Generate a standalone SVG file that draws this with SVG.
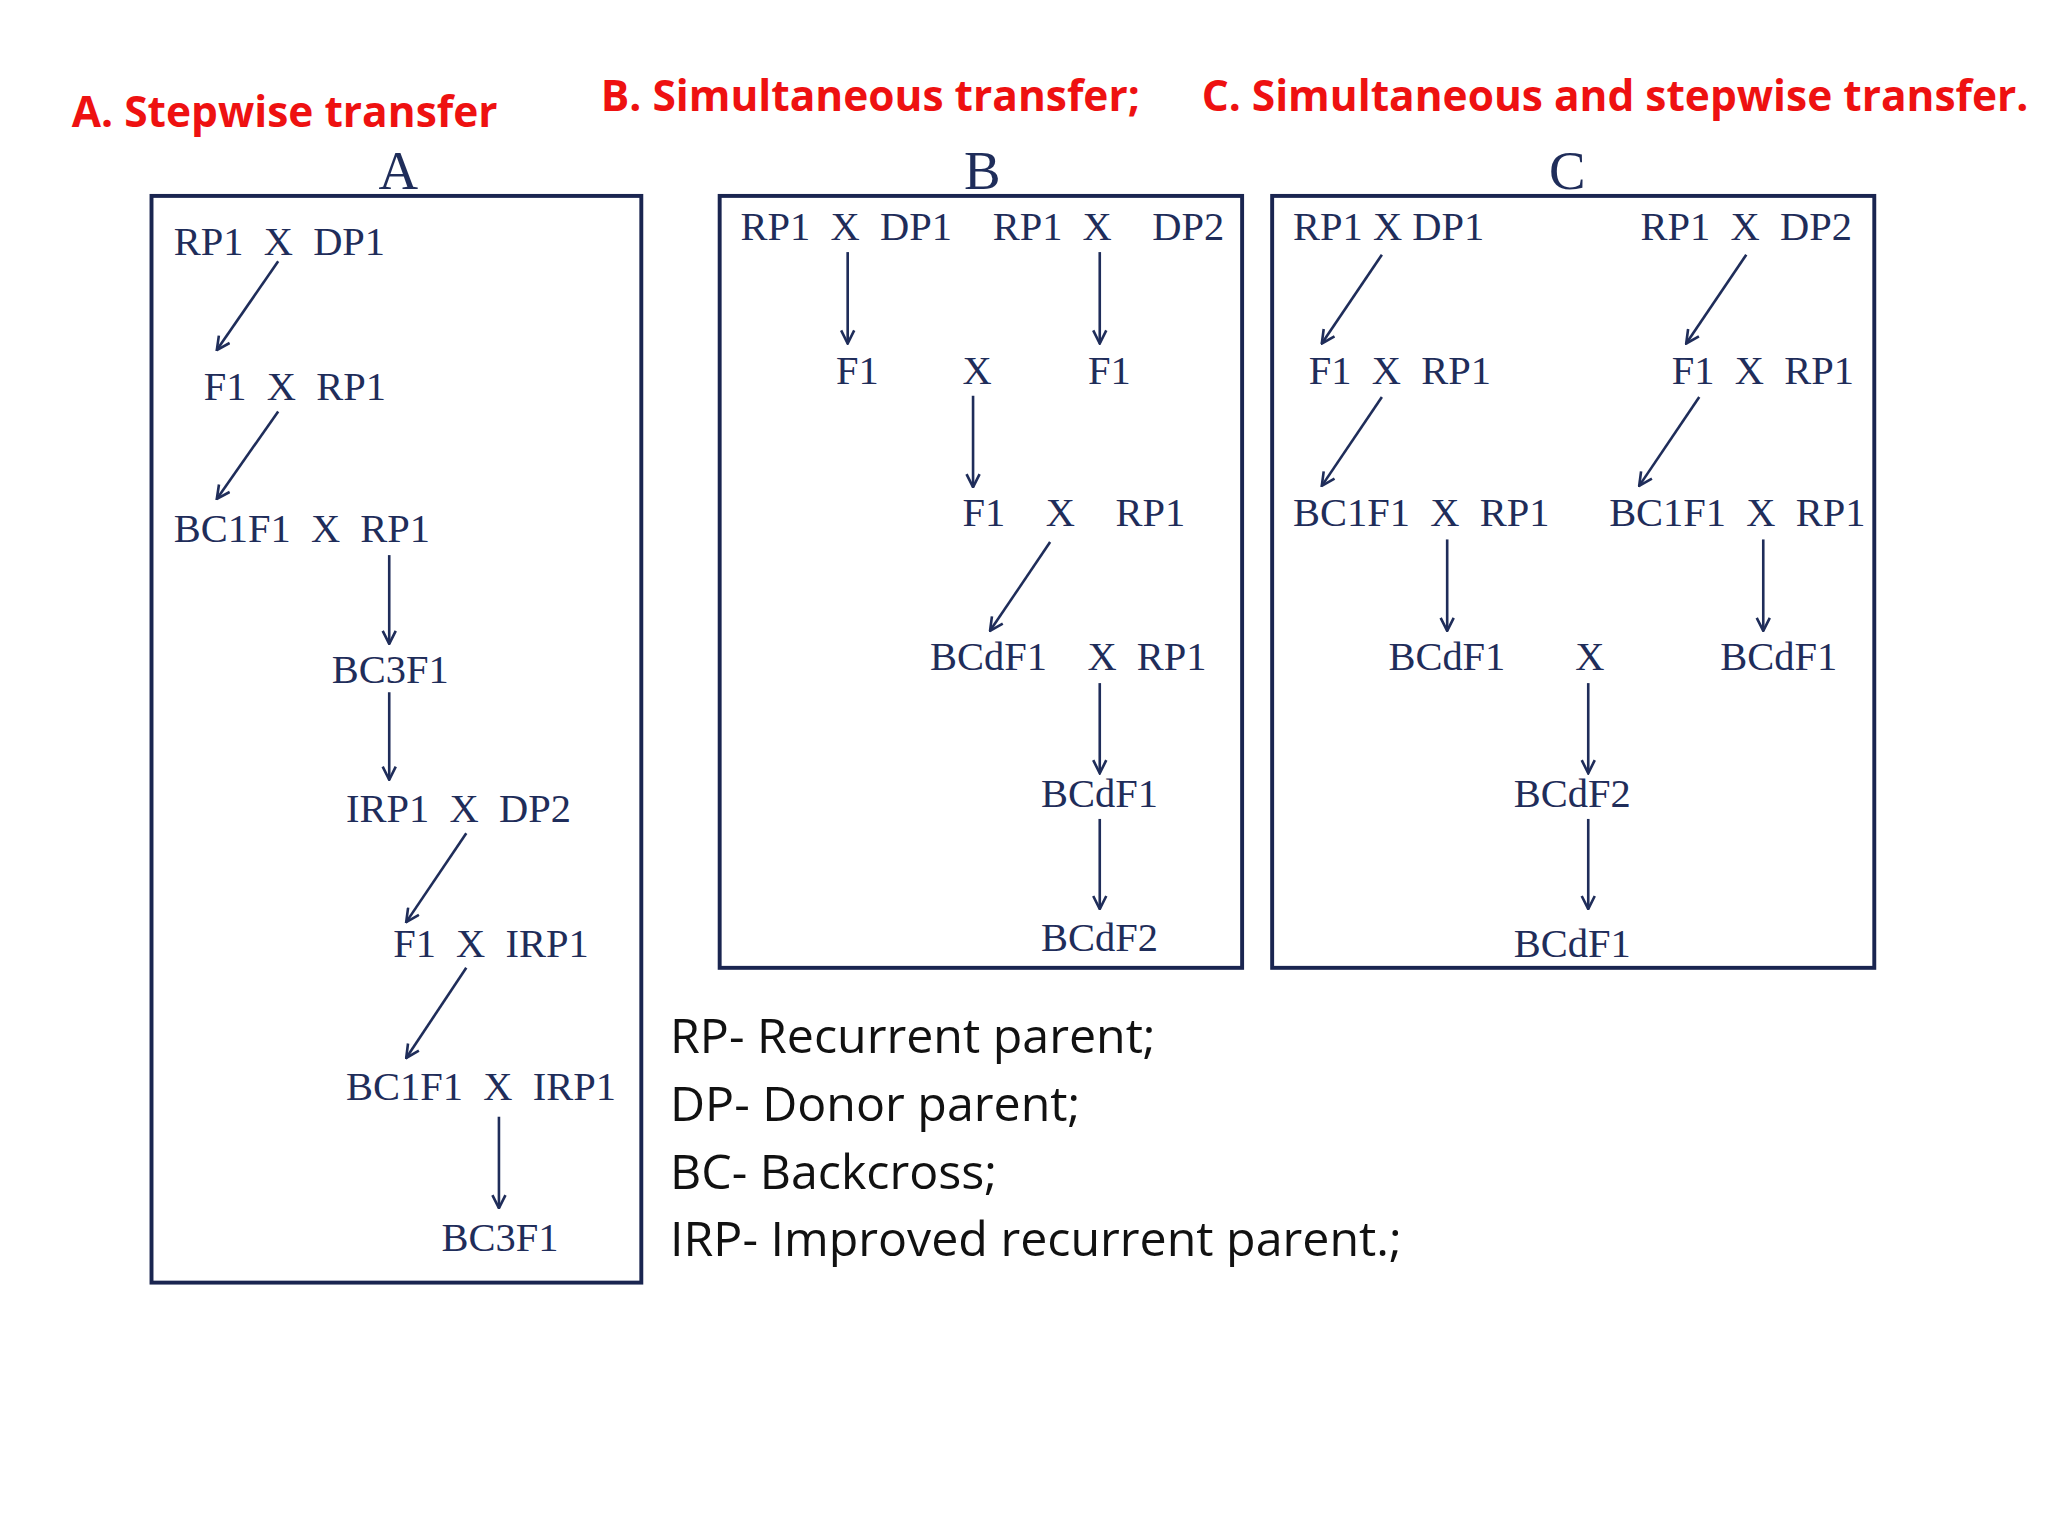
<svg xmlns="http://www.w3.org/2000/svg" width="2048" height="1536" viewBox="0 0 2048 1536">
<defs>
<style>
.t{font-family:"Liberation Serif",serif;font-size:31px;fill:#1f2d5a;white-space:pre}
.h{font-family:"Open Sans","Liberation Sans",sans-serif;font-weight:bold;font-size:32.5px;fill:#ee1111}
.l{font-family:"Liberation Serif",serif;font-size:42px;fill:#1f2d5a}
.g{font-family:"Open Sans","Liberation Sans",sans-serif;font-size:37px;fill:#111}
.b{fill:none;stroke:#1a2550;stroke-width:3}
.a{stroke:#1f2d5a;stroke-width:2;fill:none;marker-end:url(#m)}
</style>
<marker id="m" viewBox="0 0 12 12" refX="11" refY="6" markerWidth="12" markerHeight="12" markerUnits="userSpaceOnUse" orient="auto"><path d="M1,1 L11,6 L1,11" fill="none" stroke="#1f2d5a" stroke-width="2"/></marker>
</defs>
<rect width="2048" height="1536" fill="#fff"/>
<g transform="scale(1.30612)">
<g id="titles">
<text class="h" x="55" y="97">A. Stepwise transfer</text>
<text class="h" x="460" y="85">B. Simultaneous transfer;</text>
<text class="h" x="920" y="85">C. Simultaneous and stepwise transfer.</text>
<text class="l" x="305" y="145" text-anchor="middle">A</text>
<text class="l" x="752" y="145" text-anchor="middle">B</text>
<text class="l" x="1200" y="145" text-anchor="middle">C</text>
</g>
<g id="boxes">
<rect class="b" x="116" y="150" width="375" height="832"/>
<rect class="b" x="551" y="150" width="400" height="591"/>
<rect class="b" x="974" y="150" width="461" height="591"/>
</g>
<g id="nodesA">
<text class="t" x="133" y="195">RP1  X  DP1</text>
<text class="t" x="156" y="306">F1  X  RP1</text>
<text class="t" x="133" y="415">BC1F1  X  RP1</text>
<text class="t" x="254" y="523">BC3F1</text>
<text class="t" x="265" y="629">IRP1  X  DP2</text>
<text class="t" x="301" y="733">F1  X  IRP1</text>
<text class="t" x="265" y="842">BC1F1  X  IRP1</text>
<text class="t" x="338" y="958">BC3F1</text>
</g>
<g id="nodesB">
<text class="t" x="567" y="184">RP1  X  DP1</text>
<text class="t" x="760" y="184">RP1  X    DP2</text>
<text class="t" x="640" y="294">F1</text>
<text class="t" x="737" y="294">X</text>
<text class="t" x="833" y="294">F1</text>
<text class="t" x="737" y="403">F1    X    RP1</text>
<text class="t" x="712" y="513">BCdF1    X  RP1</text>
<text class="t" x="797" y="618">BCdF1</text>
<text class="t" x="797" y="728">BCdF2</text>
</g>
<g id="nodesC">
<text class="t" x="990" y="184">RP1 X DP1</text>
<text class="t" x="1256" y="184">RP1  X  DP2</text>
<text class="t" x="1002" y="294">F1  X  RP1</text>
<text class="t" x="1280" y="294">F1  X  RP1</text>
<text class="t" x="990" y="403">BC1F1  X  RP1</text>
<text class="t" x="1232" y="403">BC1F1  X  RP1</text>
<text class="t" x="1063" y="513">BCdF1</text>
<text class="t" x="1206" y="513">X</text>
<text class="t" x="1317" y="513">BCdF1</text>
<text class="t" x="1159" y="618">BCdF2</text>
<text class="t" x="1159" y="733">BCdF1</text>
</g>
<g id="connectors">
<line class="a" x1="213" y1="200" x2="166" y2="268"/>
<line class="a" x1="213" y1="315" x2="166" y2="382"/>
<line class="a" x1="298" y1="425" x2="298" y2="493"/>
<line class="a" x1="298" y1="530" x2="298" y2="597"/>
<line class="a" x1="357" y1="638" x2="311" y2="706"/>
<line class="a" x1="357" y1="741" x2="311" y2="810"/>
<line class="a" x1="382" y1="855" x2="382" y2="925"/>
<line class="a" x1="649" y1="193" x2="649" y2="263"/>
<line class="a" x1="842" y1="193" x2="842" y2="263"/>
<line class="a" x1="745" y1="303" x2="745" y2="373"/>
<line class="a" x1="804" y1="415" x2="758" y2="483"/>
<line class="a" x1="842" y1="523" x2="842" y2="592"/>
<line class="a" x1="842" y1="627" x2="842" y2="696"/>
<line class="a" x1="1058" y1="195" x2="1012" y2="263"/>
<line class="a" x1="1337" y1="195" x2="1291" y2="263"/>
<line class="a" x1="1058" y1="304" x2="1012" y2="372"/>
<line class="a" x1="1301" y1="304" x2="1255" y2="372"/>
<line class="a" x1="1108" y1="413" x2="1108" y2="483"/>
<line class="a" x1="1350" y1="413" x2="1350" y2="483"/>
<line class="a" x1="1216" y1="523" x2="1216" y2="592"/>
<line class="a" x1="1216" y1="627" x2="1216" y2="696"/>
</g>
<g id="legend">
<text class="g" x="513" y="806">RP- Recurrent parent;</text>
<text class="g" x="513" y="858">DP- Donor parent;</text>
<text class="g" x="513" y="910">BC- Backcross;</text>
<text class="g" x="513" y="962">IRP- Improved recurrent parent.;</text>
</g>
</g>
</svg>
